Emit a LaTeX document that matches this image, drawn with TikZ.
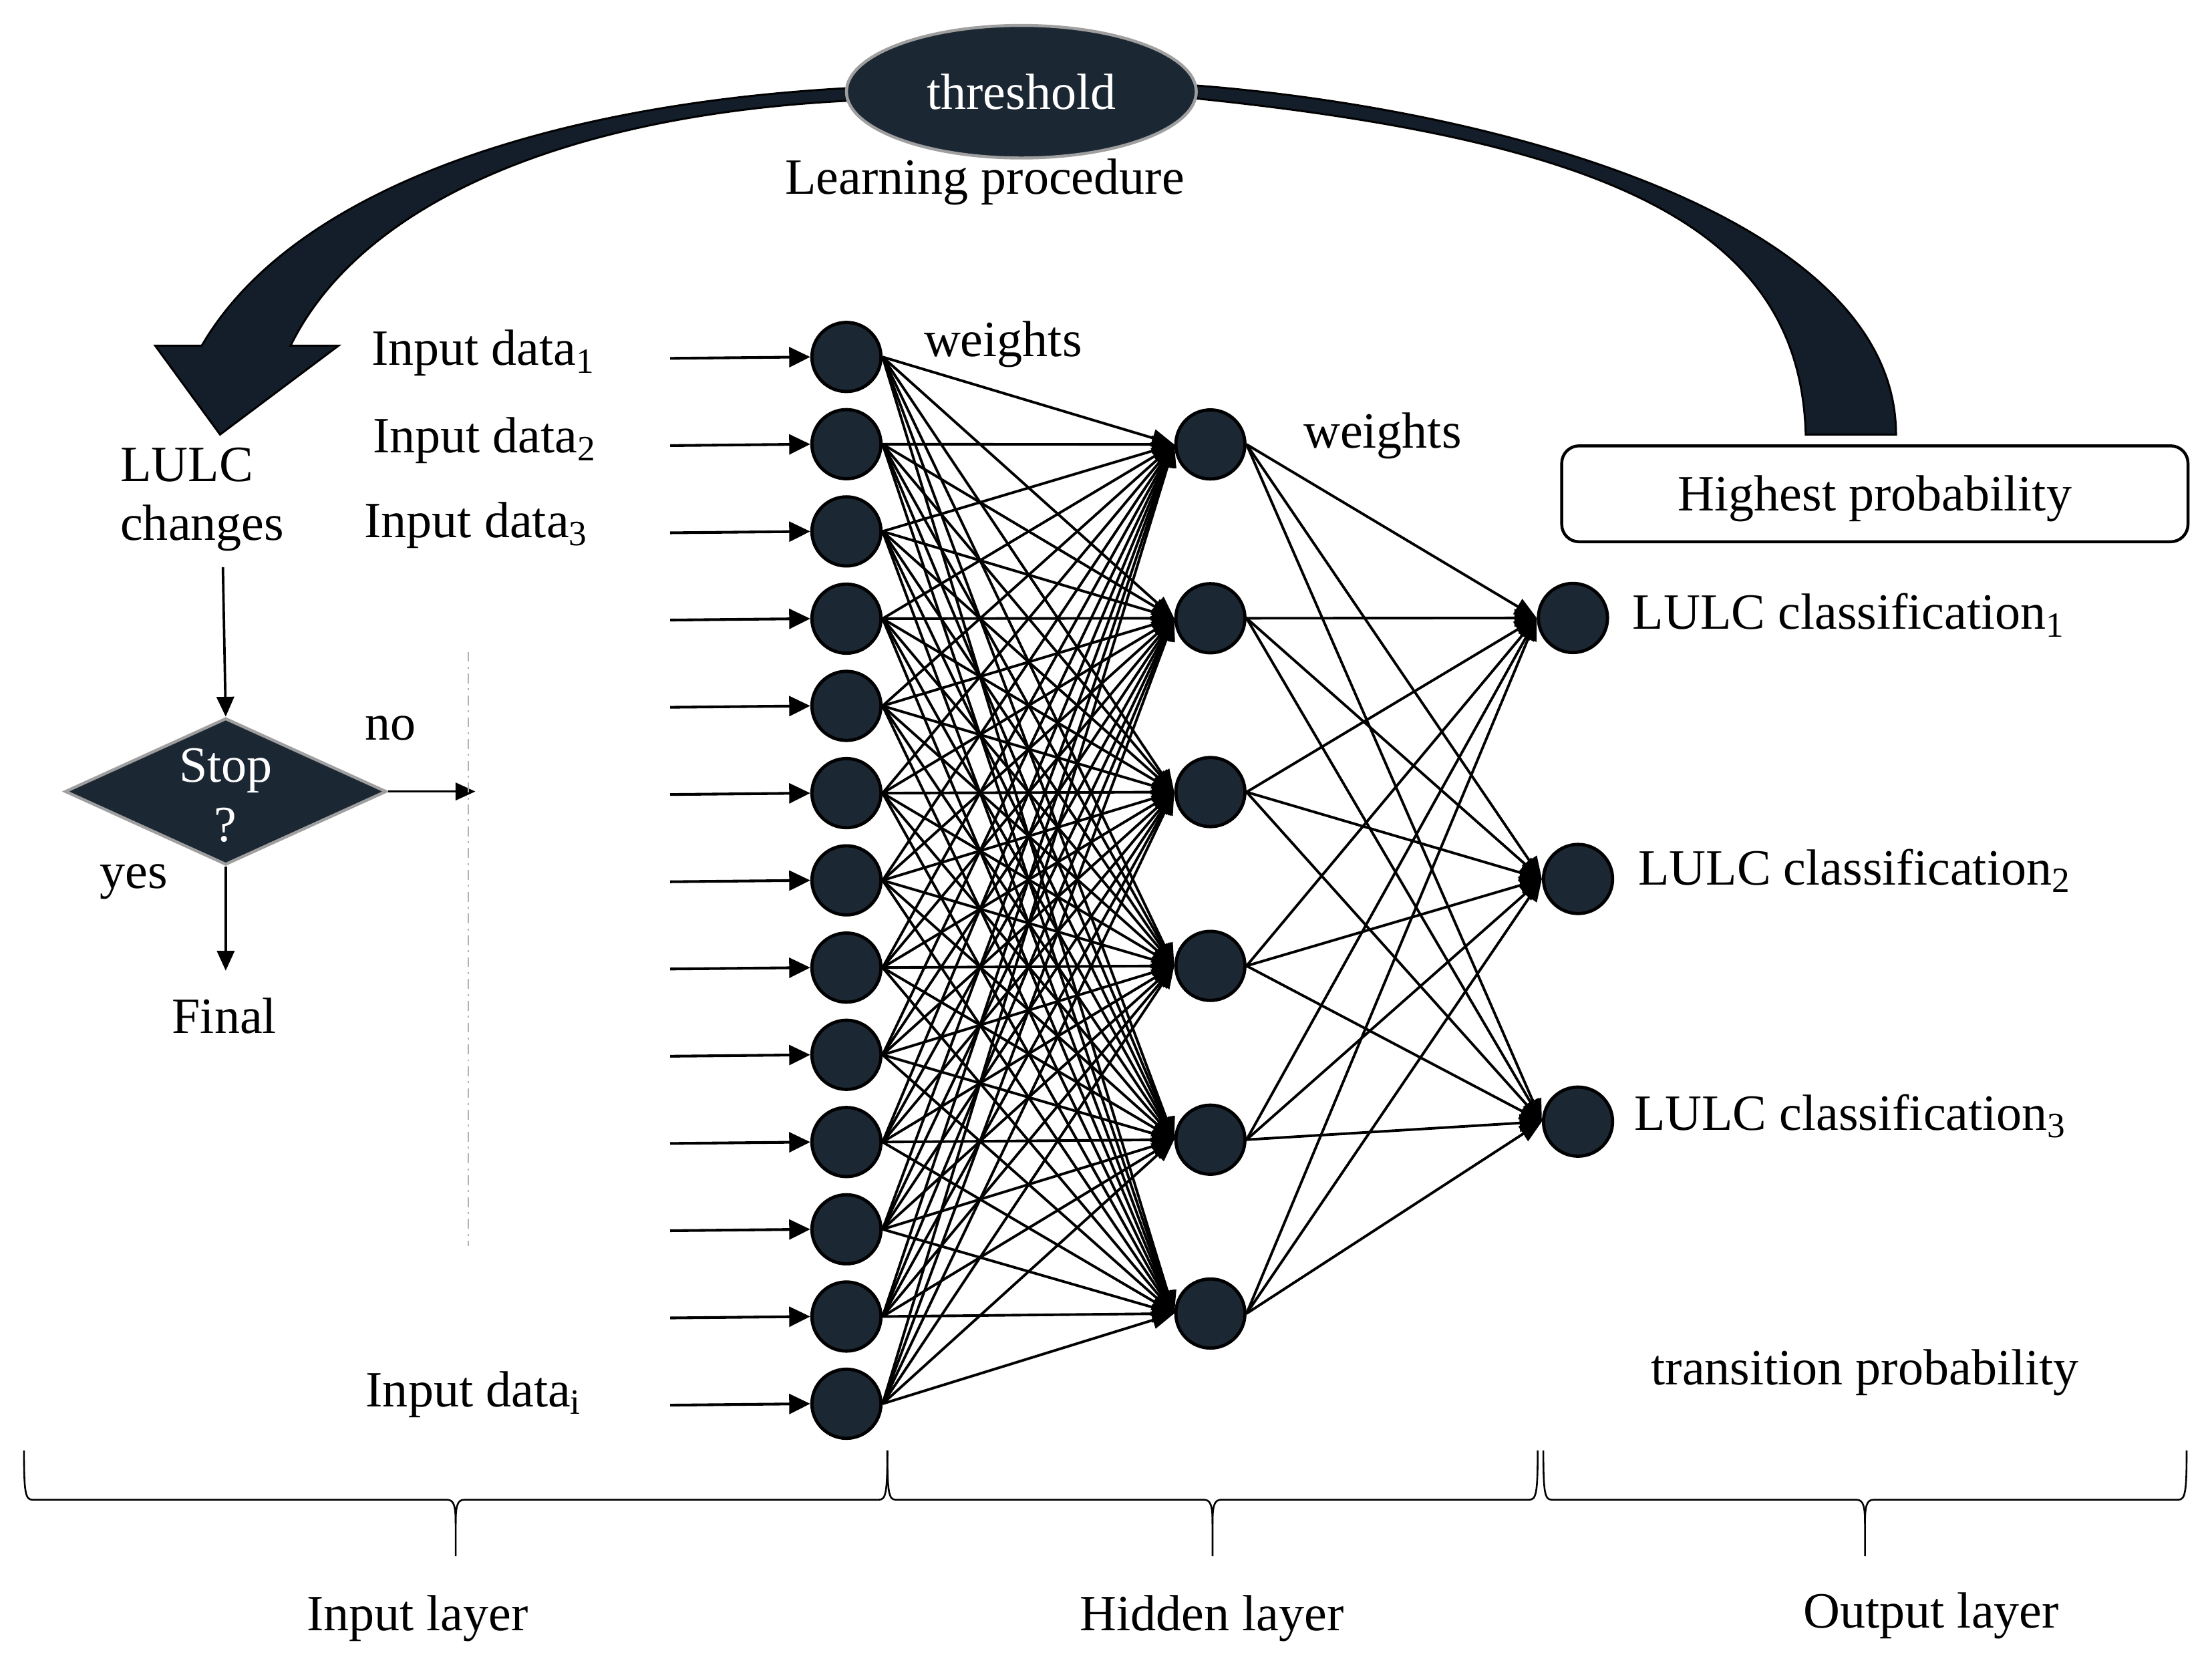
\documentclass[tikz,border=0pt]{standalone}
\usepackage{fontspec}
\setmainfont{Liberation Serif}
\usetikzlibrary{arrows.meta,shapes.geometric,calc}
\definecolor{navy}{HTML}{1C2734}
\definecolor{ribboncol}{HTML}{141E2A}
\newcommand{\mybrace}[3]{%
 \draw[bracepath] (#1,1028) .. controls (#1,1058) and (#1+1,1063) .. (#1+6,1063) -- (#2-6,1063) .. controls (#2-1,1063) and (#2,1068) .. (#2,1080) -- (#2,1103);
 \draw[bracepath] (#2,1080) .. controls (#2,1068) and (#2+1,1063) .. (#2+6,1063) -- (#3-6,1063) .. controls (#3-1,1063) and (#3,1058) .. (#3,1028);
}
\begin{document}
\begin{tikzpicture}[x=0.02cm,y=-0.02cm,
  every node/.style={font=\fontsize{20.5}{23.6}\selectfont},
  neuron/.style={circle,draw=black,line width=1.3pt,fill=navy,minimum size=0.98cm,inner sep=0pt},
  link/.style={line width=1.05pt,-{Triangle[length=9pt,width=7pt]}},
  inarrow/.style={line width=1.1pt,-{Triangle[length=8.5pt,width=8pt]}},
  flow/.style={line width=1pt,-{Triangle[length=8pt,width=7pt]}},
  ribbon/.style={fill=ribboncol,draw=black,line width=0.8pt},
  bracepath/.style={line width=0.7pt},
  txt/.style={inner sep=0pt},
]
\useasboundingbox (0,0) rectangle (1568,1180);

% feedback ribbons
\path[ribbon] (610,62) .. controls (400,72) and (210,130) .. (143,245) -- (110,245) -- (156,308) -- (240,245) -- (206,245) .. controls (255,145) and (400,80) .. (610,71) -- cycle;
\path[ribbon] (840,60) .. controls (1050,75) and (1344,150) .. (1344,308) -- (1280,308) .. controls (1276,165) and (1150,100) .. (840,69) -- cycle;

\node[ellipse,fill=navy,draw=gray!75,line width=1.2pt,minimum width=4.96cm,minimum height=1.88cm,text=white] (thr) at (724,65) {threshold};
\node (learn) at (698,129) {Learning procedure};

% input layer
\foreach \k in {0,...,12} {
  \node[neuron] (i\k) at (600,{253+61.83*\k}) {};
  \coordinate (s\k) at (475,{254+61.83*\k});
  \draw[inarrow] (s\k) -- (i\k.west);
}
% hidden layer
\foreach \j in {0,...,5} {
  \node[neuron] (h\j) at (858,{315+123.2*\j}) {};
}
% output layer
\node[neuron] (o0) at (1115,438) {};
\node[neuron] (o1) at (1118.6,623) {};
\node[neuron] (o2) at (1118.6,795) {};

\foreach \k in {0,...,12} {
  \foreach \j in {0,...,5} {
    \draw[link] (i\k.east) -- (h\j.west);
  }
}
\foreach \j in {0,...,5} {
  \foreach \m in {0,1,2} {
    \draw[link] (h\j.east) -- (o\m.west);
  }
}

% labels
\node[anchor=base west,txt] (d1) at (263,259) {Input data\textsubscript{1}};
\node[anchor=base west,txt] (d2) at (264,321) {Input data\textsubscript{2}};
\node[anchor=base west,txt] (d3) at (258,381) {Input data\textsubscript{3}};
\node[anchor=base west,txt] (di) at (259,997) {Input data\textsubscript{i}};
\node (w1) at (711,244) {weights};
\node (w2) at (980,309) {weights};

\node[anchor=base west,txt] (c1) at (1157,446) {LULC classification\textsubscript{1}};
\node[anchor=base west,txt] (c2) at (1161,627) {LULC classification\textsubscript{2}};
\node[anchor=base west,txt] (c3) at (1158,801) {LULC classification\textsubscript{3}};
\node (tp) at (1322,973) {transition probability};

\node[draw=black,line width=1.2pt,rounded corners=7pt,minimum width=8.88cm,minimum height=1.36cm,text height=14pt,text depth=0.2pt] (hp) at (1329,350) {Highest probability};

% flowchart
\node[anchor=west,align=left,txt] (lulc) at (85,354) {LULC\\changes};
\coordinate (lc) at (158,402);
\node[diamond,fill=navy,draw=gray!75,line width=1.2pt,minimum width=4.56cm,minimum height=2.08cm,inner sep=0pt] (dia) at (160,561) {};
\node[text=white] (stoptxt) at (160,546) {Stop};
\node[text=white] (qtxt) at (160,585) {?};
\draw[flow] (lc) -- (dia.north);
\coordinate (noend) at (337,561);
\draw[flow] (dia.east) -- (noend);
\node (no) at (277,516) {no};
\node (yes) at (95,625) {yes};
\node (final) at (159,720) {Final};
\coordinate (fin) at (160,688);
\draw[flow] (dia.south) -- (fin);
\draw[gray!60,line width=0.6pt,dash pattern=on 4pt off 2pt on 0.8pt off 2pt] (332,462) -- (332,883);

% braces
\mybrace{17}{323}{629}
\mybrace{629}{859.5}{1090}
\mybrace{1094}{1322}{1550}
\node (il) at (296,1147) {Input layer};
\node (hl) at (859,1147) {Hidden layer};
\node (ol) at (1369,1145) {Output layer};
\end{tikzpicture}
\end{document}
